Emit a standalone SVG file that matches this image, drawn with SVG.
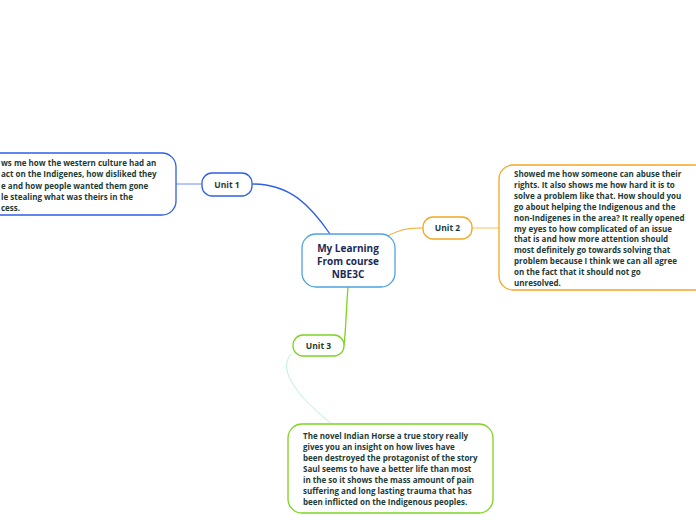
<svg xmlns="http://www.w3.org/2000/svg" width="696" height="520" viewBox="0 0 696 520">
<style>
.t{font-family:"Open Sans","Noto Sans","DejaVu Sans",sans-serif;font-weight:bold;font-size:8px;fill:#1d3b36}
.u{font-family:"Open Sans","Noto Sans","DejaVu Sans",sans-serif;font-weight:bold;font-size:8.5px;fill:#1d3b36;text-anchor:middle}
.c{font-family:"Open Sans","Noto Sans","DejaVu Sans",sans-serif;font-weight:bold;font-size:10px;fill:#1b2a55;text-anchor:middle}
.box{fill:#fff;stroke-width:1.3}
</style>
<rect width="696" height="520" fill="#fff"/>
<g id="connectors" fill="none">
<path d="M176 184 H202" stroke="#6a8cf0" stroke-width="1"/>
<path d="M252 184 C290 184 310 205 330 234" stroke="#2f5fe8" stroke-width="1.3"/>
<path d="M385 237 C400 230 405 228 423 228" stroke="#f5a623" stroke-width="1"/>
<path d="M472 228 H500" stroke="#f8c060" stroke-width="1"/>
<path d="M348 287 C346 310 346 330 344 345" stroke="#7ed321" stroke-width="1.3"/>
<path d="M291 354 C282 365 283 385 333 425" stroke="#a5f0c8" stroke-width="0.8"/>
</g>
<g id="unit1-text">
<rect class="box" x="-20" y="153" width="196" height="62" rx="14" stroke="#2f5fe8"/>
<text class="t" x="1" y="166">ws me how the western culture had an</text>
<text class="t" x="1" y="177">act on the Indigenes, how disliked they</text>
<text class="t" x="1" y="189">e and how people wanted them gone</text>
<text class="t" x="1" y="200">le stealing what was theirs in the</text>
<text class="t" x="1" y="211">cess.</text>
</g>
<g id="unit1">
<rect class="box" x="202" y="173" width="50" height="23" rx="10" stroke="#2f5fe8"/>
<text class="u" x="227" y="188">Unit 1</text>
</g>
<g id="center">
<rect class="box" x="302" y="234" width="93" height="53" rx="14" stroke="#4ea3e0"/>
<text class="c" x="348" y="252">My Learning</text>
<text class="c" x="348" y="265">From course</text>
<text class="c" x="348" y="278">NBE3C</text>
</g>
<g id="unit2">
<rect class="box" x="423" y="217" width="49" height="22" rx="10" stroke="#f5a623"/>
<text class="u" x="447.5" y="231">Unit 2</text>
</g>
<g id="unit2-text">
<rect class="box" x="499" y="165" width="210" height="125" rx="14" stroke="#f5a623"/>
<text class="t" x="514" y="177">Showed me how someone can abuse their</text>
<text class="t" x="514" y="187.9">rights. It also shows me how hard it is to</text>
<text class="t" x="514" y="198.8">solve a problem like that. How should you</text>
<text class="t" x="514" y="209.7">go about helping the Indigenous and the</text>
<text class="t" x="514" y="220.6">non-Indigenes in the area? It really opened</text>
<text class="t" x="514" y="231.5">my eyes to how complicated of an issue</text>
<text class="t" x="514" y="242.4">that is and how more attention should</text>
<text class="t" x="514" y="253.3">most definitely go towards solving that</text>
<text class="t" x="514" y="264.2">problem because I think we can all agree</text>
<text class="t" x="514" y="275.1">on the fact that it should not go</text>
<text class="t" x="514" y="286">unresolved.</text>
</g>
<g id="unit3">
<rect class="box" x="293" y="335" width="51" height="21" rx="10" stroke="#7ed321"/>
<text class="u" x="318.5" y="349">Unit 3</text>
</g>
<g id="unit3-text">
<rect class="box" x="288" y="424" width="205" height="89" rx="14" stroke="#7ed321"/>
<text class="t" x="303" y="439">The novel Indian Horse a true story really</text>
<text class="t" x="303" y="450">gives you an insight on how lives have</text>
<text class="t" x="303" y="461">been destroyed the protagonist of the story</text>
<text class="t" x="303" y="472">Saul seems to have a better life than most</text>
<text class="t" x="303" y="483">in the so it shows the mass amount of pain</text>
<text class="t" x="303" y="494">suffering and long lasting trauma that has</text>
<text class="t" x="303" y="505">been inflicted on the Indigenous peoples.</text>
</g>
</svg>
